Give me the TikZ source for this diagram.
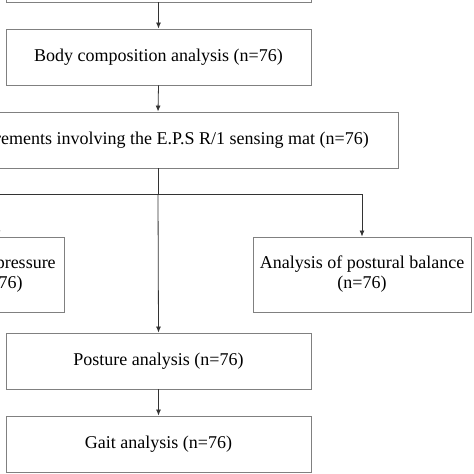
\documentclass[tikz,border=0pt]{standalone}
\usepackage{fontspec}
\setmainfont{Liberation Serif}
\usetikzlibrary{arrows.meta}
\tikzset{
  box/.style = {draw=black!50, line width=.9pt, fill=white, align=center,
                font=\fontsize{18}{20}\selectfont, inner sep=0pt},
  arr/.style = {draw=black!80, line width=.8pt, -{Latex[length=6pt,width=5pt]}},
  lin/.style = {draw=black!80, line width=.8pt}
}

\begin{document}
\begin{tikzpicture}[x=1pt, y=-1pt]
        \useasboundingbox (0,0) rectangle (474,474);
        \clip (0,0) rectangle (474,474);
        \node[box, minimum width=305pt, minimum height=56pt] (recruit) at (158.5, -26) {};
        \node[box, minimum width=305pt, minimum height=56pt] (body) at (158.5, 57) {Body composition analysis (n=76)};
        \node[box, minimum width=480pt, minimum height=56pt] (mat) at (158, 140) {Measurements involving the E.P.S R/1 sensing mat (n=76)};
        \node[box, minimum width=132pt, minimum height=75pt] (plantar) at (-2, 274.5) {Plantar pressure\\(n=76)};
        \node[box, minimum width=218pt, minimum height=75pt] (balance) at (362, 274.5) {Analysis of postural balance\\(n=76)};
        \node[box, minimum width=305pt, minimum height=56pt] (posture) at (158.5, 361) {Posture analysis (n=76)};
        \node[box, minimum width=305pt, minimum height=56pt] (gait) at (158.5, 444) {Gait analysis (n=76)};
        \coordinate (split) at (158, 194);
        \draw[arr] (recruit.south) -- (body.north);
        \draw[arr] (body.south) -- (mat.north);
        \draw[lin] (mat.south) -- (split);
        \draw[arr] (split) -| (plantar.north);
        \draw[arr] (split) -| (balance.north);
        \draw[arr] (split) -- (posture.north);
        \draw[arr] (posture.south) -- (gait.north);
\end{tikzpicture}
\end{document}
